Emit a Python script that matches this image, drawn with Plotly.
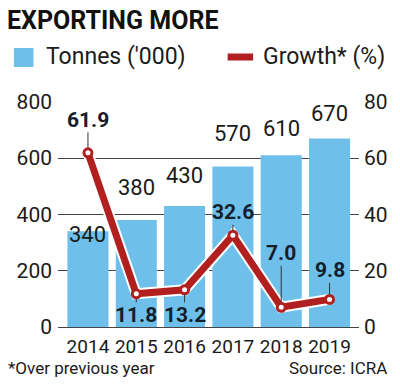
import plotly.graph_objects as go

years = ["2014", "2015", "2016", "2017", "2018", "2019"]
tonnes = [340, 380, 430, 570, 610, 670]
growth = [61.9, 11.8, 13.2, 32.6, 7.0, 9.8]
left_ticks = [0, 200, 400, 600, 800]
right_ticks = [0, 20, 40, 60, 80]

BLUE = "#6EC0EA"
RED = "#B21F1F"
TXT = "#1a1a1a"
FONT = "Roboto, Liberation Sans, sans-serif"

# plot area in pixels
L, R, T, B = 58, 365, 101, 327
W, H = 400, 386

def px(x):
    return (x - L) / (R - L)

def py(y):
    return (B - y) / (B - T)

# label offsets (pixels) -- style, not data
bar_label_shift = [-18, 18, 16, 19, 12, 10]
line_label_ay = [-33, 21, 25, -23, -54, -29]

fig = go.Figure()
fig.add_trace(go.Bar(x=years, y=tonnes, marker=dict(color=BLUE, line=dict(width=0)),
                     width=0.85, yaxis="y", hoverinfo="skip"))
# white halo behind the growth line
fig.add_trace(go.Scatter(x=years, y=growth, yaxis="y2", mode="lines",
                         line=dict(color="white", width=11), hoverinfo="skip"))
fig.add_trace(go.Scatter(x=years, y=growth, yaxis="y2", mode="lines+markers",
                         line=dict(color=RED, width=7),
                         marker=dict(size=8, color="white", line=dict(color=RED, width=3)),
                         hoverinfo="skip"))

annotations = []
for i, (v, s) in enumerate(zip(tonnes, bar_label_shift)):
    annotations.append(dict(x=i, y=v, xref="x", yref="y", text=str(v), showarrow=False,
                            yanchor="bottom", yshift=s,
                            font=dict(family=FONT, size=22, color=TXT)))
for i, (v, ay) in enumerate(zip(growth, line_label_ay)):
    annotations.append(dict(x=i, y=v, xref="x", yref="y2", text=f"<b>{v:.1f}</b>",
                            showarrow=True, arrowhead=0, arrowwidth=1, arrowcolor="#333",
                            ax=0, ay=ay, standoff=5, borderpad=0,
                            font=dict(family=FONT, size=21, color="#13202b")))

# title, legend, footer
annotations += [
    dict(xref="paper", yref="paper", x=px(4), y=py(20), xanchor="left", yanchor="middle",
         text="<b>EXPORTING MORE</b>", showarrow=False,
         font=dict(family=FONT, size=25, color="#111")),
    dict(xref="paper", yref="paper", x=px(44), y=py(57), xanchor="left", yanchor="middle",
         text="Tonnes ('000)", showarrow=False, font=dict(family=FONT, size=23, color=TXT)),
    dict(xref="paper", yref="paper", x=px(265), y=py(57), xanchor="left", yanchor="middle",
         text="Growth* (%)", showarrow=False, font=dict(family=FONT, size=23, color=TXT)),
    dict(xref="paper", yref="paper", x=px(5), y=py(368), xanchor="left", yanchor="middle",
         text="*Over previous year", showarrow=False, font=dict(family=FONT, size=17, color=TXT)),
    dict(xref="paper", yref="paper", x=px(396), y=py(368), xanchor="right", yanchor="middle",
         text="Source: ICRA", showarrow=False, font=dict(family=FONT, size=17, color=TXT)),
]

shapes = [
    dict(type="rect", xref="paper", yref="paper", x0=px(13), x1=px(33), y0=py(67), y1=py(48),
         fillcolor=BLUE, line=dict(width=0)),
    dict(type="line", xref="paper", yref="paper", x0=px(231), x1=px(257), y0=py(57), y1=py(57),
         line=dict(color=RED, width=7)),
]

fig.update_layout(
    width=W, height=H,
    margin=dict(l=L, r=W - R, t=T, b=H - B, pad=0),
    paper_bgcolor="white", plot_bgcolor="white",
    showlegend=False,
    xaxis=dict(type="category", range=[-0.62, 5.61], showgrid=False, zeroline=False,
               showline=False, ticks="", ticklabelstandoff=6, tickangle=0,
               tickfont=dict(family=FONT, size=19, color=TXT)),
    yaxis=dict(range=[0, 803], tickvals=left_ticks, showgrid=True, gridcolor="#444",
               gridwidth=1, zeroline=True, zerolinecolor="#444", zerolinewidth=1,
               showline=False, ticks="", ticklabelstandoff=5,
               tickfont=dict(family=FONT, size=21, color=TXT)),
    yaxis2=dict(range=[0, 80.3], tickvals=right_ticks, overlaying="y", side="right",
                showgrid=False, zeroline=False, showline=False, ticks="", ticklabelstandoff=4,
                tickfont=dict(family=FONT, size=21, color=TXT)),
    annotations=annotations,
    shapes=shapes,
)

fig.write_html("out.html", config={"displayModeBar": False},
               post_script="document.body.style.margin='0';")
